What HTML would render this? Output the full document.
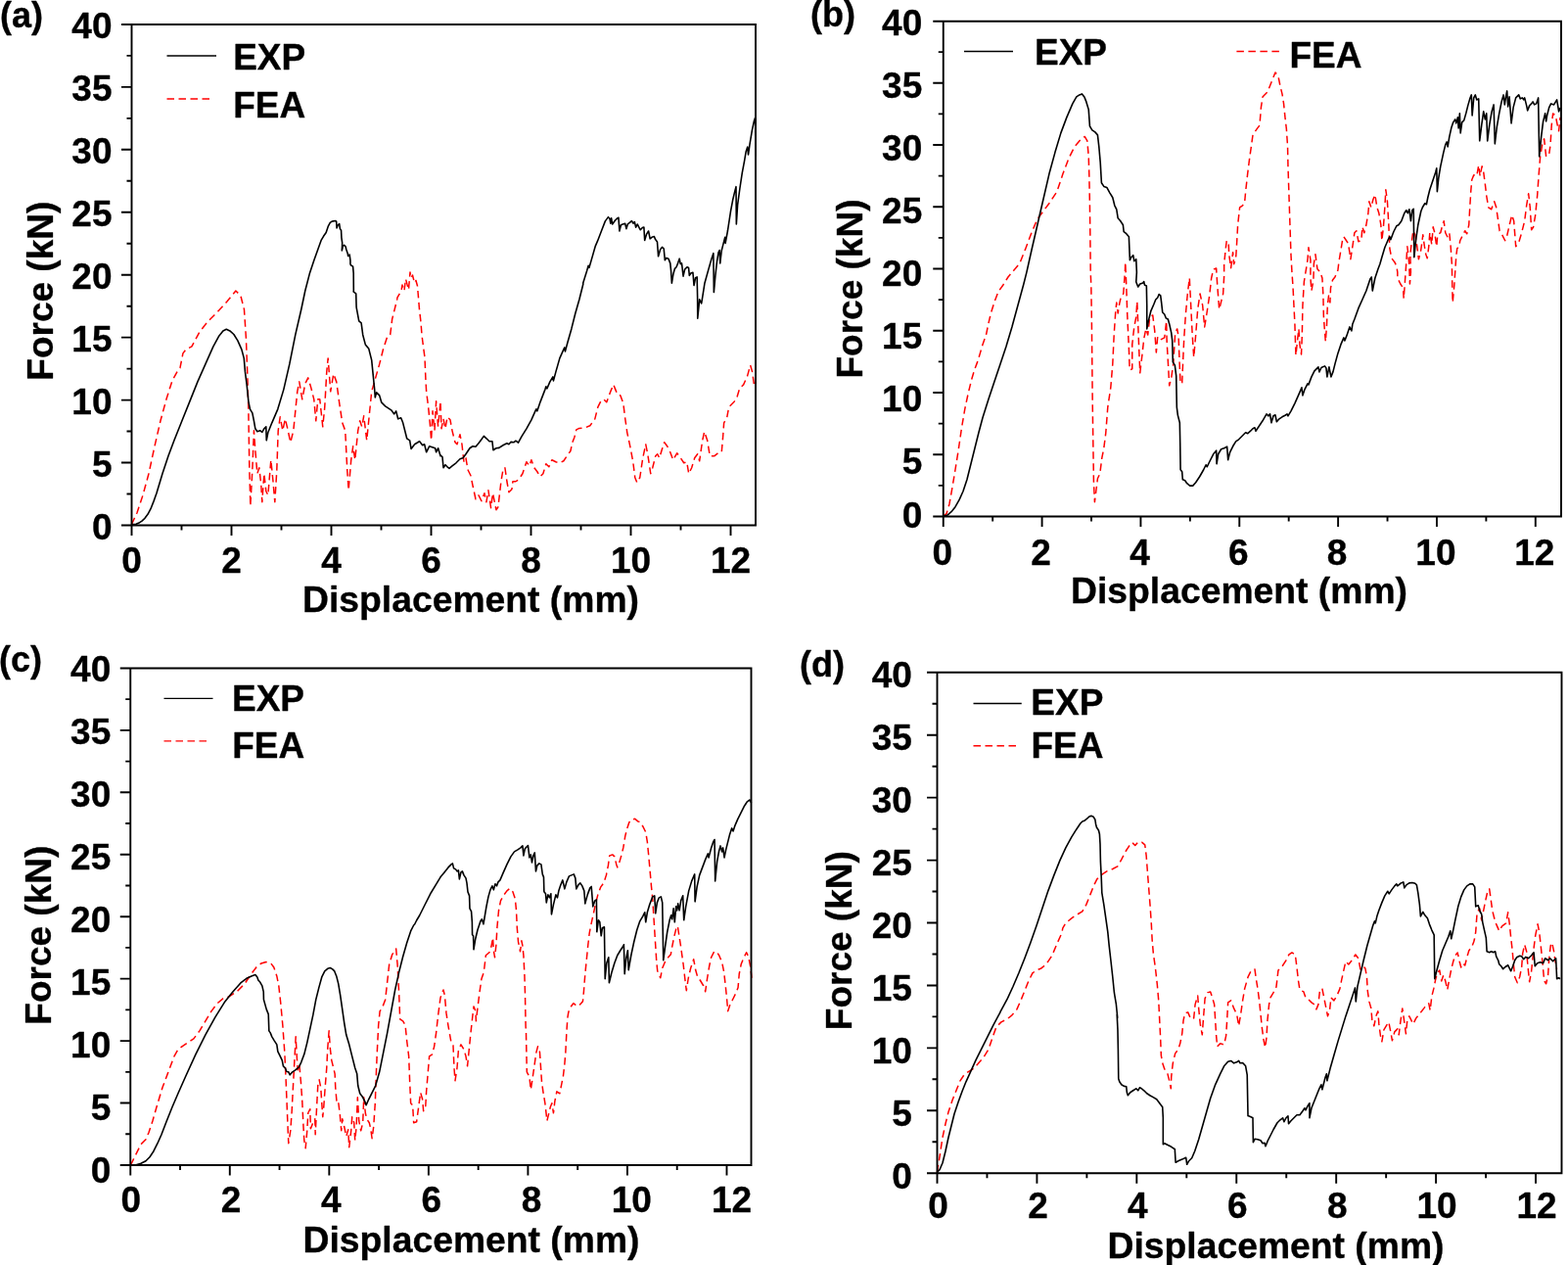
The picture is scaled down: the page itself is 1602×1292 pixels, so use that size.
<!DOCTYPE html>
<html lang="en"><head><meta charset="utf-8"><title>Force-displacement curves</title>
<style>
html,body{margin:0;padding:0;background:#fff;}
body{width:1602px;height:1292px;overflow:hidden;}
svg{display:block;}
text{font-family:"Liberation Sans", Arial, Helvetica, sans-serif;font-weight:bold;font-size:37px;fill:#000;stroke:#000;stroke-width:0.35px;stroke-linejoin:round;}
.ax{stroke:#000;stroke-width:1.9;fill:none;stroke-linecap:butt;}
.exp{stroke:#000;stroke-width:1.6;fill:none;stroke-linejoin:round;}
.fea{stroke:#f00;stroke-width:1.5;fill:none;stroke-dasharray:7.5 4.5;stroke-linejoin:round;}
</style></head>
<body>
<svg width="1602" height="1292" viewBox="0 0 1602 1292">
<rect width="1602" height="1292" fill="#fff"/>
<g id="chart-a">
<polyline class="fea" points="134.39,535.69 139.99,523.71 145.98,505.73 151.97,483.76 157.97,455.79 163.96,429.82 169.95,407.85 175.94,388.87 181.94,377.88 183.94,375.88 186.93,360.9 189.93,356.91 195.92,353.91 203.91,338.93 211.9,328.94 221.89,318.95 231.88,307.97 240.87,296.98 245.86,301.97 249.46,315.96 251.45,345.92 252.85,383.88 253.85,419.83 254.85,479.76 255.85,516.72 257.85,479.76 259.44,439.81 260.84,459.78 262.84,483.76 264.84,477.76 266.84,495.74 267.83,512.72 269.83,483.76 271.83,501.73 273.83,505.73 276.82,469.77 278.82,489.75 280.82,512.72 282.82,479.76 284.21,439.81 286.21,425.83 288.81,439.81 291.41,427.82 293.8,437.81 296.8,451.79 299.8,439.81 301.79,419.83 303.79,399.86 305.79,389.87 308.79,407.85 311.78,391.87 314.78,385.87 317.77,395.86 320.77,407.85 322.77,429.82 324.77,407.85 326.76,407.85 329.76,435.81 331.76,415.84 333.76,379.88 335.15,365.9 337.75,399.86 340.75,381.88 343.74,389.87 346.74,411.84 349.74,431.82 352.73,439.81 354.73,479.76 356.13,500.74 358.73,469.77 360.72,455.79 362.72,469.77 365.72,439.81 367.71,429.82 369.71,435.81 371.71,424.83 374.71,449.8 376.7,429.82 379.7,399.86 383.7,385.87 387.69,371.89 391.69,355.91 395.68,343.92 398.68,341.93 400.68,325.94 405.67,305.97 405.99,303.96 409.99,296.96 410.99,290.97 412.99,296.96 414.49,284.98 417.48,295.96 418.98,277.98 419.98,283.98 421.48,280.98 423.48,288.97 424.98,286.47 426.47,291.97 427.17,299.96 428.47,315.94 429.97,328.93 430.97,341.92 432.47,353.91 433.97,364.9 434.97,388.87 435.63,399.86 437.63,415.84 439.23,431.82 440.63,449.8 442.03,419.83 444.02,439.81 445.62,409.84 447.62,435.81 450.02,409.84 451,437.81 453,427.82 454.99,437.81 456.99,425.83 459.99,428.82 461.99,439.81 464.98,451.79 466.98,453.79 469.98,443.8 471.97,453.79 473.97,471.77 475.97,467.77 477.97,479.76 480.96,485.75 482.96,495.74 485.96,509.72 488.95,505.73 491.95,511.72 494.95,503.73 496.94,512.72 498.94,500.74 501.54,518.71 503.54,503.73 506.93,520.71 508.93,517.71 511.93,491.75 513.92,479.76 515.92,477.76 517.92,491.75 519.92,502.73 522.91,499.74 523.91,491.75 526.91,491.75 529.9,489.75 533.9,483.76 537.89,471.77 540.89,475.77 542.89,469.77 545.88,477.76 548.88,481.76 551.88,486.75 554.87,483.76 557.87,473.77 560.87,476.76 563.86,469.77 567.86,471.77 571.85,472.77 575.85,470.77 579.84,464.78 582.84,460.78 584.84,451.79 586.84,446.8 588.83,438.81 591.83,437.41 597.82,436.81 602.82,434.81 607.81,427.82 610.81,415.84 613.8,409.84 616.8,407.85 619.8,410.84 623.79,399.86 626.79,392.86 628.79,397.86 630.78,402.85 633.78,403.85 636.78,411.84 638.77,427.82 640.77,441.81 643.77,455.79 646.76,471.77 648.76,487.75 650.76,492.74 653.76,487.75 656.75,467.77 659.75,453.79 661.75,463.78 664.74,483.76 666.74,477.76 669.74,465.78 671.73,463.78 673.73,467.77 676.73,457.79 678.73,451.79 681.72,455.79 684.72,461.78 687.71,469.77 691.71,462.78 694.71,466.78 698.7,472.77 701.7,471.77 703.7,483.76 706.69,477.76 709.69,467.77 712.68,463.78 714.68,470.77 717.68,449.8 719.68,440.81 722.67,449.8 725.27,465.78 729.66,465.78 733.66,462.78 737.26,461.78 738.65,445.8 739.65,431.82 742.65,426.82 744.65,415.84 749.64,410.84 752.64,406.85 755.63,396.86 759.63,392.86 763.62,383.88 766.62,372.89 768.62,379.88 770.82,395.86"/>
<polyline class="exp" points="134.39,535.69 138.99,535.29 141.99,534.1 144.98,532.1 147.98,529.3 150.97,525.31 153.97,519.71 156.97,512.12 159.96,503.73 162.96,493.74 165.96,483.76 171.95,465.78 177.94,449.8 185.93,429.82 193.92,409.84 201.91,389.87 209.9,371.89 217.89,353.91 223.89,342.92 227.88,337.93 231.28,336.33 234.87,337.93 238.87,341.53 242.86,347.92 246.86,356.91 249.26,365.9 250.46,379.88 252.25,393.86 253.85,409.84 255.45,417.83 257.85,421.83 259.44,429.82 260.84,437.81 262.84,440.81 265.84,439.81 267.83,441.41 269.83,437.81 271.83,435.81 272.23,449.8 273.83,441.81 277.82,431.82 283.82,417.83 289.81,397.86 295.8,371.89 301.79,341.93 307.79,315.96 311.77,297 316.28,279.58 320.78,266.07 324.53,255.56 328.29,245.05 330.54,241.29 333.17,237.54 335.42,230.78 337.3,227.4 339.17,226.13 342.55,225.53 343.68,226.28 344.05,233.03 345.18,230.03 346.68,228.53 347.43,233.78 348.56,235.29 348.93,242.79 349.68,248.05 349.31,255.93 350.44,251.05 351.56,250.3 353.06,251.8 353.81,254.8 355.32,259.31 355.69,261.56 357.19,260.06 357.94,266.07 357.94,269.82 358.69,270.95 360.57,272.07 361.17,278.83 361.32,297 361.12,297.98 363.72,299.98 364.12,313.96 366.72,327.94 369.11,329.94 370.71,341.93 373.31,351.91 376.7,355.91 379.7,367.89 381.3,383.88 382.7,397.86 383.3,405.85 384.69,400.85 387.69,403.85 389.69,410.84 393.68,414.84 399.68,418.83 402.67,422.83 404.67,419.83 406.67,427.82 409.66,426.82 411.66,431.82 413.66,439.81 415.66,447.8 418.65,449.8 420.05,458.39 423.65,453.79 428.64,450.8 431.64,454.79 433.64,453.79 435.63,461.78 438.63,455.79 444.62,457.79 445.62,461.78 447.62,457.79 450.02,465.78 450,464.78 452,466.78 453,477.76 454.99,474.77 456.99,476.76 458.99,478.36 461.99,475.77 465.98,472.77 469.98,468.77 472.97,467.77 475.97,463.78 479.96,457.79 482.96,455.79 485.96,456.19 488.95,452.79 491.95,448.8 494.35,445.4 496.94,447.8 499.94,450.8 502.94,450.8 503.94,459.78 506.93,457.79 509.93,457.39 513.92,454.79 517.92,452.79 519.92,453.79 521.91,451.39 524.91,451.79 526.91,450.2 529.5,452.19 532.9,445.8 537.89,437.81 542.89,428.82 546.88,419.83 547.88,417.83 548.88,419.83 551.88,410.84 556.87,397.86 557.87,394.86 558.87,396.86 561.87,389.87 564.86,384.87 565.46,388.87 567.86,379.88 571.85,365.9 575.85,356.91 576.85,354.91 577.45,358.91 579.84,349.92 583.84,335.93 587.83,319.95 591.83,305.97 595.83,289.99 595.67,289.18 599.57,276.67 601.14,271.2 601.92,273.55 605.05,262.6 608.17,251.66 610.52,246.19 614.43,236.02 618.34,225.86 621.46,221.64 623.03,223.51 623.81,228.21 624.59,222.73 625.68,228.99 628.5,225.08 630.06,223.51 631.94,222.26 632.88,236.02 634.44,229.77 636.32,228.99 638.66,228.21 639.91,233.68 641.32,228.99 643.35,227.42 645.38,225.55 646.95,228.21 648.36,226.64 649.61,232.11 651.17,228.99 653.2,232.9 654.3,234.77 656.33,232.58 657.89,232.11 658.67,245.4 660.55,239.15 662.58,236.02 664.15,243.84 666.02,242.28 668.37,241.49 669.62,244.62 671.49,246.97 672.59,261.82 674.62,254.78 676.5,252.44 678.22,254 679.31,265.73 680.88,263.38 682.91,264.17 684.78,268.86 685.57,276.67 686.35,289.18 687.91,279.8 689.47,274.33 691.04,272.76 692.6,268.86 694.17,264.17 695.26,269.64 696.51,268.86 698.07,282.15 699.64,275.11 701.98,272.76 703.55,273.55 704.33,281.36 705.89,279.02 707.92,278.24 709.02,291.53 710.58,283.71 712.15,282.93 712.61,303.25 712.77,325.14 714.65,305.91 716.68,309.97 717.62,304.03 719.96,289.18 723.87,275.11 727,264.17 728.87,258.69 729.34,298.56 730.91,281.36 732.47,267.29 734.03,257.91 735.13,255.57 735.75,268.86 737.16,256.35 738.72,250.09 740.76,242.28 741.07,248.53 743.41,236.02 746.54,215.7 748.89,203.19 750.76,195.37 752.01,190.68 752.33,228.99 753.58,209.44 755.92,192.25 758.27,176.61 760.61,164.1 762.18,154.72 763.74,150.03 764.52,157.85 766.09,146.9 768.43,132.83 770.46,123.45 771.56,120.33 772.03,159.41"/>
<path class="ax" d="M124 25 H772 V536.5 H124 M134.5 24.05 V547 M124 472.55H134.5 M124 408.6H134.5 M124 344.65H134.5 M124 280.7H134.5 M124 216.75H134.5 M124 152.8H134.5 M124 88.85H134.5 M129.5 504.52H134.5 M129.5 440.57H134.5 M129.5 376.62H134.5 M129.5 312.68H134.5 M129.5 248.73H134.5 M129.5 184.78H134.5 M129.5 120.83H134.5 M129.5 56.88H134.5 M185.5 536.5V541.5 M236.5 536.5V547 M287.5 536.5V541.5 M338.5 536.5V547 M389.5 536.5V541.5 M440.5 536.5V547 M491.5 536.5V541.5 M542.5 536.5V547 M593.5 536.5V541.5 M644.5 536.5V547 M695.5 536.5V541.5 M746.5 536.5V547"/>
<text x="114.5" y="550.6" text-anchor="end">0</text>
<text x="114.5" y="486.65" text-anchor="end">5</text>
<text x="114.5" y="422.7" text-anchor="end">10</text>
<text x="114.5" y="358.75" text-anchor="end">15</text>
<text x="114.5" y="294.8" text-anchor="end">20</text>
<text x="114.5" y="230.85" text-anchor="end">25</text>
<text x="114.5" y="166.9" text-anchor="end">30</text>
<text x="114.5" y="102.95" text-anchor="end">35</text>
<text x="114.5" y="39" text-anchor="end">40</text>
<text x="134.5" y="584.8" text-anchor="middle">0</text>
<text x="236.5" y="584.8" text-anchor="middle">2</text>
<text x="338.5" y="584.8" text-anchor="middle">4</text>
<text x="440.5" y="584.8" text-anchor="middle">6</text>
<text x="542.5" y="584.8" text-anchor="middle">8</text>
<text x="644.5" y="584.8" text-anchor="middle">10</text>
<text x="746.5" y="584.8" text-anchor="middle">12</text>
<text x="481" y="624.5" text-anchor="middle" style="font-size:37.3px">Displacement (mm)</text>
<text transform="translate(53.7 297.2) rotate(-90)" text-anchor="middle">Force (kN)</text>
<text x="0" y="28" style="font-size:36px">(a)</text>
<line class="exp" style="stroke-width:1.3" x1="170.5" y1="57" x2="221" y2="57"/><text x="238.2" y="70.5">EXP</text>
<line class="fea" style="stroke-width:1.3" x1="170.5" y1="101" x2="215" y2="101"/><text x="238.2" y="120">FEA</text>
</g>
<g id="chart-b">
<polyline class="fea" points="963.6,527.29 966.99,524.7 969.99,514.71 972.98,497.73 975.98,479.75 979.18,459.77 982.37,437.8 985.77,417.83 989.17,401.84 992.56,387.86 995.56,377.87 998.55,369.88 1001.35,360.89 1003.95,351.9 1007.54,341.92 1009.54,331.93 1012.34,319.94 1016.13,307.96 1019.93,297.97 1024.92,290.98 1029.92,282.99 1035.91,276 1041.9,268.7 1047.89,253.72 1053.89,237.74 1059.88,223.76 1065.87,215.77 1071.87,207.77 1079.86,195.79 1085.85,177.81 1091.84,161.83 1097.83,149.84 1103.83,142.85 1108.22,139.46 1110.82,143.85 1112.22,159.83 1112.82,179.81 1113.42,209.77 1113.82,239.74 1114.21,278.09 1114.81,291.98 1115.41,331.93 1115.81,371.88 1116.21,411.83 1116.81,451.78 1117.41,491.74 1118.41,512.71 1119.81,501.72 1121.41,488.74 1123.8,483.75 1125.8,467.77 1127.8,457.78 1129.8,441.8 1131.79,415.83 1134.79,395.85 1136.79,371.88 1138.19,341.92 1139.78,317.94 1140.78,308.96 1142.18,319.94 1143.78,309.95 1145.38,302.96 1147.77,299.97 1149.37,277.99 1149.77,268 1150.77,291.98 1151.77,321.94 1153.37,355.9 1154.17,377.87 1156.76,376.87 1156.76,351.9 1158.76,333.93 1160.76,323.94 1161.76,307.96 1162.76,331.93 1163.76,357.9 1164.75,380.87 1166.75,363.89 1168.75,345.91 1170.75,335.92 1172.74,341.92 1174.74,323.94 1177.74,321.94 1179.74,337.92 1181.33,359.89 1182.73,343.91 1185.73,346.91 1189.72,344.91 1191.72,327.93 1192.12,347.91 1193.72,375.88 1194.72,393.85 1196.72,385.86 1198.71,371.88 1199.71,355.9 1200.71,339.92 1202.71,335.92 1204.11,343.91 1205.31,375.88 1206.1,391.86 1207.7,390.86 1208.7,367.88 1209.7,345.91 1211.3,321.94 1213.3,299.97 1215.29,283.99 1216.69,311.95 1218.09,339.92 1219.69,364.89 1221.69,341.92 1223.68,315.95 1226.08,299.97 1228.68,311.95 1230.68,333.93 1232.67,321.94 1235.67,301.96 1237.67,283.99 1239.66,275 1242.66,274 1243.66,289.98 1245.66,315.95 1247.65,307.96 1249.65,299.97 1250.65,281.99 1250.65,269.7 1252.05,255.72 1253.25,245.73 1255.25,249.72 1255.65,259.71 1257.64,273.7 1259.64,257.71 1260.64,269.7 1262.64,263.71 1263.64,247.73 1264.63,229.75 1266.63,211.77 1269.63,209.77 1271.63,206.78 1272.62,195.79 1274.62,177.81 1276.62,161.83 1278.62,147.85 1280.02,137.86 1284,131.87 1286.99,127.87 1288.39,109.89 1289.99,98.91 1294.98,93.91 1298.98,83.92 1302.97,73.94 1305.97,77.93 1307.97,87.92 1309.96,95.91 1311.56,105.9 1312.96,119.88 1314.36,131.87 1315.56,149.84 1315.96,169.82 1316.96,199.78 1317.95,229.75 1318.95,259.71 1319.95,278.09 1320.95,291.98 1321.95,311.95 1322.95,331.93 1323.55,351.9 1323.95,362.89 1325.55,347.91 1326.94,335.92 1327.94,351.9 1329.54,361.89 1330.34,341.92 1330.94,311.95 1332.34,287.98 1335.93,265.71 1336.93,252.72 1338.93,265.71 1338.93,283.99 1339.93,296.97 1341.93,285.98 1342.33,269.7 1343.92,259.71 1345.92,274.69 1348.92,278.09 1350.91,283.99 1351.91,301.96 1352.31,321.94 1353.51,339.92 1354.31,348.91 1355.51,331.93 1356.31,311.95 1357.51,301.96 1358.91,308.96 1359.5,293.97 1361.5,285.98 1363.9,282.99 1366.9,276 1367.89,267.7 1369.89,255.72 1371.49,245.73 1372.89,241.73 1374.89,244.73 1377.48,248.73 1378.88,257.71 1379.88,264.71 1381.88,251.72 1383.88,237.74 1385.87,235.74 1387.87,246.73 1390.87,245.73 1391.87,231.75 1393.86,237.74 1395.86,229.75 1397.86,217.76 1398.86,205.78 1400.85,211.77 1402.85,203.78 1404.85,198.79 1406.85,211.77 1408.85,217.76 1410.84,229.75 1411.84,245.73 1413.44,231.75 1414.84,211.77 1415.84,193.79 1417.44,205.78 1418.83,229.75 1419.83,253.72 1421.83,263.71 1424.83,267.7 1426.82,271.7 1427.82,278.09 1427.82,283.99 1430.82,289.98 1433.42,293.97 1434.21,304.96 1435.41,287.98 1436.81,267.7 1437.81,251.72 1438.81,259.71 1439.81,271.7 1440.41,289.98 1441.41,277.99 1440.81,259.71 1442.21,247.73 1443.8,235.74 1445.8,239.74 1447.8,251.72 1449.4,264.71 1451.39,257.71 1452.79,247.73 1453.79,239.74 1455.39,251.72 1456.79,259.71 1458.19,263.71 1459.78,251.72 1460.78,237.74 1462.78,249.72 1464.18,231.75 1465.78,237.74 1467.77,251.72 1468.77,239.74 1471.77,237.74 1473.77,229.75 1475.17,225.75 1476.76,237.74 1478.76,241.73 1480.76,237.74 1482.16,251.72 1483.36,269.7 1483.76,291.98 1484.16,308.96 1485.75,291.98 1487.75,261.71 1488.75,253.72 1490.75,251.72 1491.75,245.73 1494.74,239.74 1496.74,235.74 1498.74,238.74 1500.74,229.75 1501.73,211.77 1502.73,195.79 1503.73,183.8 1505.73,178.81 1508.73,179.81 1510.72,168.82 1512.12,179.81 1514.12,169.82 1515.72,175.81 1517.32,187.8 1518.71,199.78 1520.71,211.77 1523.71,213.77 1526.7,205.78 1528.7,211.77 1530.7,225.75 1532.1,235.74 1534.69,239.74 1537.69,245.73 1539.69,240.74 1542.68,227.75 1544.68,219.76 1546.68,225.75 1548.68,251.72 1551.67,247.73 1554.67,237.74 1557.67,225.75 1559.66,209.77 1561.66,197.79 1563.26,211.77 1564.66,234.74 1566.66,231.75 1568.65,219.76 1570.65,199.78 1572.05,179.81 1573.65,159.83 1575.65,147.85 1577.64,141.85 1579.64,159.83 1582.64,157.83 1584.04,147.85 1585.23,127.87 1586.63,115.88 1589.23,117.88 1591.23,127.87 1592.62,133.86 1594.02,119.88"/>
<polyline class="exp" points="963.6,527.29 967.99,526.1 971.99,522.7 975.98,517.71 979.98,510.71 983.97,501.72 987.97,489.74 991.96,473.76 995.96,457.78 999.95,441.8 1003.95,426.81 1009.94,407.84 1015.93,389.86 1021.93,371.88 1027.92,353.9 1033.91,333.93 1039.9,311.95 1045.9,289.98 1048.89,278.09 1053.89,255.72 1059.88,229.75 1065.87,203.78 1071.87,177.81 1077.86,155.84 1083.85,135.86 1089.84,119.88 1095.84,105.9 1099.83,98.91 1102.83,96.91 1105.43,95.91 1107.82,98.91 1109.82,103.9 1112.22,111.89 1113.42,128.87 1115.81,132.86 1118.81,134.86 1121.41,137.86 1122.8,149.84 1124.2,165.83 1125.4,186.8 1127.8,190.4 1130.8,191.39 1133.79,196.79 1136.79,201.78 1138.79,209.77 1140.78,213.77 1142.18,222.76 1144.78,225.75 1147.38,229.75 1148.17,236.74 1150.77,238.74 1153.37,241.73 1154.37,265.71 1155.77,262.71 1157.76,260.71 1158.76,266.7 1160.76,264.71 1161.36,278.09 1160.76,287.98 1162.76,292.97 1164.75,289.98 1167.75,288.98 1168.75,287.58 1169.35,290.98 1171.35,291.98 1171.75,311.95 1171.75,335.92 1173.34,327.93 1175.74,317.94 1178.74,310.95 1180.74,305.96 1182.73,303.96 1184.13,300.57 1185.73,301.96 1186.73,309.95 1187.73,318.94 1189.72,320.94 1191.32,324.94 1193.32,325.94 1194.72,330.93 1196.72,339.92 1197.71,347.91 1198.31,369.88 1200.31,372.88 1201.71,383.87 1202.31,415.83 1203.31,423.82 1205.31,431.81 1205.71,451.78 1206.1,479.75 1207.7,481.75 1208.3,489.74 1210.7,490.74 1212.7,493.73 1215.69,496.13 1218.69,496.13 1221.69,492.74 1225.68,486.74 1229.68,479.75 1232.07,474.76 1233.27,476.75 1235.67,471.76 1239.66,463.77 1242.66,460.17 1243.06,473.76 1244.66,463.77 1247.65,458.78 1250.65,457.78 1253.65,456.18 1254.65,469.76 1256.64,461.77 1259.64,455.78 1262.64,450.79 1265.63,448.79 1269.63,444.79 1272.62,441.8 1274.62,442.8 1277.62,440.2 1280.02,437.8 1282,436.8 1283,440.2 1285.99,435.8 1289.99,429.81 1293.98,422.82 1295.98,424.82 1297.58,422.82 1298.98,431.81 1300.97,424.82 1302.97,423.82 1304.37,430.81 1306.97,427.81 1309.96,425.82 1312.96,424.22 1314.96,422.82 1315.96,424.82 1318.95,419.82 1322.95,411.83 1326.94,402.84 1329.94,395.85 1330.94,403.84 1332.94,397.85 1335.93,391.86 1336.93,392.85 1339.93,384.86 1342.92,378.87 1346.92,374.88 1347.92,379.87 1349.92,375.48 1353.51,373.88 1354.91,375.88 1355.91,384.86 1357.91,374.88 1359.9,384.86 1361.9,379.87 1363.9,371.88 1366.9,360.89 1369.89,351.9 1372.89,344.91 1373.89,347.91 1375.88,342.91 1378.88,333.93 1380.88,337.92 1381.88,330.93 1383.88,325.94 1387.87,314.95 1391.87,305.96 1395.86,296.97 1399.86,284.98 1401.25,282.99 1402.25,296.97 1404.85,283.99 1407.85,275 1409.84,269.7 1411.84,262.71 1414.84,252.72 1417.83,245.73 1419.83,241.73 1420.83,244.73 1423.83,236.74 1426.82,230.75 1428.82,229.75 1431.82,225.75 1434.81,217.76 1436.81,214.77 1438.21,217.76 1439.81,213.77 1441.41,225.75 1442.8,214.77 1444.2,213.37 1444.8,262.71 1446.8,243.73 1448.8,229.75 1451.79,215.77 1453.39,211.77 1455.79,207.77 1457.39,208.77 1458.79,201.78 1460.78,193.79 1462.78,187.8 1464.78,181.81 1466.78,175.81 1467.77,171.82 1468.37,195.79 1469.77,181.81 1471.77,169.82 1474.77,155.84 1476.76,147.85 1478.16,144.85 1479.16,149.84 1480.76,139.86 1482.76,130.87 1484.75,124.87 1486.75,121.88 1487.75,125.87 1489.35,119.88 1490.15,130.87 1491.35,115.88 1492.15,135.86 1493.74,124.87 1495.74,122.88 1497.74,115.88 1499.74,107.89 1501.73,100.9 1503.33,96.91 1504.13,117.88 1505.73,99.9 1507.33,96.91 1508.73,101.9 1510.72,100.9 1511.72,143.85 1513.72,127.87 1515.72,113.89 1517.32,121.88 1518.71,115.88 1519.71,143.85 1521.71,127.87 1524.11,113.89 1526.1,106.9 1527.3,146.85 1529.3,129.87 1531.7,115.88 1534.1,103.9 1536.09,96.91 1537.29,106.9 1538.69,97.91 1539.69,92.91 1540.69,108.89 1542.09,98.91 1544.08,125.87 1546.08,109.89 1548.68,99.9 1551.67,96.91 1553.27,100.9 1555.27,99.9 1556.67,101.9 1557.67,99.9 1559.66,107.89 1560.66,112.89 1562.66,107.89 1564.66,105.9 1566.06,103.9 1567.65,106.9 1569.65,105.9 1571.65,99.9 1572.65,159.83 1574.65,139.86 1576.64,123.88 1578.64,115.88 1579.64,123.88 1580.64,117.88 1582.64,109.89 1584.63,105.9 1587.63,106.9 1590.63,101.9 1592.62,113.89 1594.02,109.89"/>
<path class="ax" d="M953.25 21.7 H1595 V527.5 H953.25 M963.75 20.75 V538 M953.25 464.25H963.75 M953.25 401H963.75 M953.25 337.75H963.75 M953.25 274.5H963.75 M953.25 211.25H963.75 M953.25 148H963.75 M953.25 84.75H963.75 M958.75 495.88H963.75 M958.75 432.62H963.75 M958.75 369.38H963.75 M958.75 306.12H963.75 M958.75 242.88H963.75 M958.75 179.62H963.75 M958.75 116.38H963.75 M958.75 53.12H963.75 M1014.17 527.5V532.5 M1064.59 527.5V538 M1115.01 527.5V532.5 M1165.43 527.5V538 M1215.85 527.5V532.5 M1266.27 527.5V538 M1316.69 527.5V532.5 M1367.11 527.5V538 M1417.53 527.5V532.5 M1467.95 527.5V538 M1518.37 527.5V532.5 M1568.79 527.5V538"/>
<text x="942.25" y="539.4" text-anchor="end">0</text>
<text x="942.25" y="483.95" text-anchor="end">5</text>
<text x="942.25" y="420" text-anchor="end">10</text>
<text x="942.25" y="356.05" text-anchor="end">15</text>
<text x="942.25" y="292.1" text-anchor="end">20</text>
<text x="942.25" y="228.15" text-anchor="end">25</text>
<text x="942.25" y="164.2" text-anchor="end">30</text>
<text x="942.25" y="100.25" text-anchor="end">35</text>
<text x="942.25" y="36.3" text-anchor="end">40</text>
<text x="962.75" y="576.7" text-anchor="middle">0</text>
<text x="1063.59" y="576.7" text-anchor="middle">2</text>
<text x="1164.43" y="576.7" text-anchor="middle">4</text>
<text x="1265.27" y="576.7" text-anchor="middle">6</text>
<text x="1366.11" y="576.7" text-anchor="middle">8</text>
<text x="1466.95" y="576.7" text-anchor="middle">10</text>
<text x="1567.79" y="576.7" text-anchor="middle">12</text>
<text x="1266" y="616.2" text-anchor="middle" style="font-size:37.3px">Displacement (mm)</text>
<text transform="translate(880.9 295) rotate(-90)" text-anchor="middle">Force (kN)</text>
<text x="828" y="27.25" style="font-size:36px">(b)</text>
<line class="exp" style="stroke-width:1.3" x1="985" y1="52.5" x2="1035" y2="52.5"/><text x="1057" y="66.4">EXP</text>
<line class="fea" style="stroke-width:1.3" x1="1263.4" y1="52.5" x2="1308.4" y2="52.5"/><text x="1317.5" y="68.6">FEA</text>
</g>
<g id="chart-c">
<polyline class="fea" points="133.4,1190.09 137.99,1180.71 143.98,1168.72 148.98,1163.73 151.97,1156.73 155.97,1144.75 159.96,1130.77 165.96,1110.79 171.95,1094.81 177.94,1078.83 181.94,1071.84 185.93,1068.84 191.93,1064.84 197.92,1060.85 203.91,1052.86 209.9,1042.87 215.9,1032.88 221.89,1024.89 227.88,1019.9 233.88,1017.9 241.87,1012.91 249.86,1004.92 255.85,995.93 261.84,987.94 266.84,983.94 271.83,982.54 276.82,983.94 279.82,987.94 282.82,996.93 284.81,1006.91 286.81,1024.89 288.81,1046.87 290.81,1074.83 292.21,1104.8 293.4,1134.76 294.2,1154.74 294.8,1167.72 296.8,1154.74 298.2,1134.76 299.4,1110.79 300.8,1084.82 302.19,1058.85 303.39,1080.83 304.19,1092.81 305.79,1086.82 307.39,1104.8 308.79,1124.77 309.78,1146.75 310.78,1164.72 312.18,1172.71 313.78,1154.74 314.78,1136.76 316.78,1132.76 317.38,1152.74 319.77,1146.75 321.77,1142.75 322.17,1158.73 323.37,1134.76 324.77,1108.79 326.16,1102.8 327.76,1110.79 328.76,1126.77 329.76,1140.75 330.76,1130.77 332.16,1110.79 333.76,1090.81 334.75,1070.84 336.15,1052.86 337.35,1070.84 338.75,1082.82 340.75,1090.81 342.15,1096.81 342.74,1110.79 344.14,1126.77 345.74,1125.77 347.34,1138.76 348.74,1154.74 349.74,1142.75 351.73,1150.74 353.73,1160.73 355.73,1153.74 356.73,1171.72 358.73,1154.74 359.72,1140.75 361.72,1146.75 362.72,1164.72 364.12,1150.74 365.32,1120.78 366.72,1144.75 368.71,1154.74 370.71,1146.75 371.71,1120.78 373.31,1136.76 374.71,1142.75 377.3,1146.75 378.7,1152.74 380.1,1162.73 381.7,1150.74 383.3,1126.77 384.29,1098.8 385.29,1074.83 386.69,1046.87 388.09,1032.88 390.69,1028.89 393.68,1020.9 395.68,1002.92 397.68,984.94 400.68,974.95 404.67,968.96 406.07,984.94 407.67,1014.9 408.67,1040.87 411.66,1042.87 414.06,1046.87 415.66,1062.85 417.65,1078.83 418.65,1104.8 419.65,1126.77 421.65,1128.77 422.65,1146.75 425.65,1145.75 427.64,1130.77 429.64,1115.78 431.64,1122.77 432.64,1134.76 434.63,1132.76 435.63,1114.78 437.63,1090.81 438.63,1078.83 441.63,1076.83 443.62,1068.84 445.62,1054.86 447.62,1036.88 450.02,1018.9 453,1010.91 454.39,1016.9 455.99,1034.88 457.99,1047.86 460.99,1064.84 462.98,1067.84 463.98,1090.81 464.98,1103.8 466.98,1090.81 468.38,1072.83 470.97,1066.84 473.97,1071.84 475.97,1078.83 477.57,1088.82 478.97,1074.83 480.96,1054.86 482.96,1036.88 483.96,1027.89 485.96,1032.88 486.36,1042.87 487.95,1029.71 489.95,1013.73 491.95,999.75 494.35,992.76 496.34,975.78 499.94,972.78 501.94,966.79 503.54,957.8 504.33,970.78 505.53,977.77 506.93,964.79 507.93,946.81 509.53,929.83 511.53,919.84 514.92,913.85 517.92,909.86 520.91,907.46 523.91,910.85 526.31,917.85 527.51,929.83 528.31,947.81 529.5,961.79 531.5,971.78 532.9,960.8 533.9,965.79 534.9,975.78 535.9,995.75 536.5,1015.73 537.1,1048.09 537.5,1054.86 537.89,1074.83 538.29,1094.81 540.89,1099.8 542.29,1112.79 543.89,1102.8 545.88,1088.82 547.88,1074.83 549.48,1068.84 551.48,1074.83 552.28,1086.82 553.48,1104.8 554.87,1114.78 556.87,1126.77 558.87,1144.75 560.87,1136.76 562.27,1130.77 563.86,1126.77 565.46,1136.76 566.86,1124.77 568.86,1114.78 571.85,1116.78 573.45,1108.79 575.45,1098.8 576.85,1086.82 577.85,1074.83 578.85,1054.86 579.84,1039.7 580.84,1033.71 582.84,1028.71 585.84,1024.72 589.83,1027.71 592.83,1025.72 595.43,1022.72 596.42,1012.73 597.82,994.75 599.42,978.77 600.82,964.79 602.22,952.8 604.21,942.82 606.81,930.83 608.81,921.84 610.81,913.85 613.8,905.86 616.8,901.87 619.4,893.88 621.39,883.89 622.79,873.9 625.79,872.9 627.79,874.9 629.78,882.89 630.78,885.88 632.78,880.89 634.78,873.9 636.78,865.91 638.77,853.92 640.77,845.93 642.77,839.94 645.37,836.94 648.76,836.34 651.76,838.94 654.16,839.54 656.75,843.94 659.75,849.93 661.35,859.92 662.74,873.9 664.14,889.88 665.34,903.86 666.74,917.85 667.74,933.83 668.74,949.81 669.74,965.79 670.74,981.77 671.73,991.76 674.73,998.75 676.73,988.76 679.72,981.77 682.72,977.77 685.32,974.78 686.72,966.79 688.71,956.8 690.71,948.81 692.31,945.81 693.71,954.8 695.31,964.79 696.7,974.78 698.1,984.77 699.7,998.75 701.3,1011.73 703.3,998.75 705.69,988.76 708.69,979.77 710.69,990.76 712.68,997.75 715.68,1001.75 718.68,1006.74 720.68,1012.73 722.67,998.75 724.67,986.76 726.67,977.77 729.66,971.78 732.66,972.78 734.66,975.78 737.65,982.77 739.65,992.76 741.25,1006.74 742.65,1020.72 743.65,1032.71 745.65,1026.72 748.64,1020.72 751.64,1014.73 754.04,1008.74 755.23,994.75 757.23,984.77 759.63,978.77 762.62,972.78 764.62,976.78 766.62,986.76 768.02,998.75"/>
<polyline class="exp" points="133.4,1190.09 138.99,1189.69 143.98,1188.3 148.98,1185.7 152.97,1181.7 156.97,1175.71 160.96,1167.72 164.96,1158.73 169.95,1145.75 175.94,1130.77 181.94,1116.78 189.93,1098.8 199.92,1076.83 209.9,1056.85 219.89,1038.88 229.88,1022.89 237.87,1012.91 245.86,1003.92 251.85,999.32 256.85,996.93 260.84,995.53 262.84,997.92 263.84,1000.92 265.84,1003.32 267.83,1006.91 269.23,1012.91 269.43,1020.9 270.83,1025.89 272.23,1030.88 274.23,1035.88 274.83,1052.86 276.22,1054.86 277.82,1058.85 280.22,1062.85 282.82,1066.84 283.82,1073.83 285.81,1077.83 288.21,1082.82 289.41,1088.82 291.41,1090.81 292.8,1094.41 294.8,1094.81 296.2,1097.8 298.8,1094.81 301.79,1092.81 305.39,1089.81 307.79,1084.82 310.78,1076.83 313.78,1064.84 316.78,1050.86 319.77,1036.88 322.77,1020.9 325.77,1008.91 328.76,997.92 331.76,991.93 334.75,989.33 337.35,988.54 339.75,989.93 341.75,991.93 343.74,996.93 345.74,1004.92 347.74,1016.9 349.74,1030.88 351.73,1044.87 353.73,1056.85 356.73,1066.84 359.72,1078.83 362.72,1090.81 364.72,1096.81 365.72,1108.79 367.71,1116.78 370.71,1120.78 372.71,1124.77 374.11,1128.77 376.7,1122.77 379.7,1116.78 383.7,1108.79 387.69,1094.81 391.69,1074.83 395.68,1054.86 399.68,1032.88 403.67,1010.91 407.67,992.93 411.66,976.95 415.66,962.97 419.65,950.98 422.65,944.99 423.65,943.99 425.65,939.99 428.64,935 433.64,925.01 439.63,913.03 445.62,903.04 450,895.87 454,890.88 457.99,885.88 460.99,882.89 462.39,881.89 463.58,886.88 465.58,887.88 466.98,889.88 468.38,888.88 469.38,897.87 470.97,890.88 472.37,889.88 473.97,893.88 475.97,896.87 476.97,901.87 477.97,910.85 479.56,914.85 479.96,927.83 481.56,930.83 482.36,941.82 482.56,954.8 483.56,955.8 483.96,969.78 485.56,959.8 487.95,949.81 490.95,940.82 492.35,938.82 493.95,943.82 494.95,937.82 496.94,925.84 498.94,915.85 500.94,908.86 502.94,904.86 504.33,908.86 505.93,902.86 507.53,904.86 508.93,900.87 510.93,898.87 513.92,891.88 517.92,882.89 521.91,874.9 525.51,869.9 528.91,867.91 531.9,865.91 533.9,863.91 534.9,873.9 536.3,866.91 539.49,863.51 540.89,875.9 542.29,872.9 543.49,880.89 544.89,873.9 546.28,870.9 547.48,889.88 548.88,883.89 550.88,881.89 552.88,882.89 554.27,892.88 555.47,895.87 555.87,910.85 557.47,912.85 558.27,921.84 559.87,913.85 561.47,916.85 562.86,912.85 563.46,933.83 565.46,923.84 567.86,913.85 569.46,916.85 570.85,909.86 572.85,903.86 574.85,898.87 576.85,907.86 578.85,900.87 581.44,894.87 583.84,893.88 586.24,892.88 587.83,896.87 588.83,907.86 590.83,903.86 592.83,901.87 594.83,904.86 596.82,909.86 597.82,922.84 600.22,913.85 602.82,906.86 604.21,905.46 605.81,925.84 607.81,919.84 609.41,918.85 609.81,951.81 611.41,939.82 612.8,941.82 614.2,955.8 615.4,947.81 617.4,946.81 618.2,999.75 619.8,983.77 621.79,977.77 622.39,1003.74 624.79,993.76 627.79,983.77 630.78,975.78 633.78,970.78 635.78,967.79 637.38,964.79 638.17,994.75 639.77,978.77 641.37,970.78 642.17,990.76 644.77,975.78 647.76,961.79 650.76,949.81 653.76,940.82 656.75,935.83 658.75,931.83 659.75,941.82 661.35,931.83 663.74,923.84 666.74,915.85 668.74,914.85 669.74,932.83 671.33,921.84 673.33,916.85 675.33,915.85 676.73,921.84 677.73,980.77 679.72,965.79 681.72,951.81 684.12,939.82 685.72,934.83 686.72,938.82 688.11,927.83 689.31,941.82 690.71,925.84 691.71,929.83 692.71,922.84 694.11,929.83 695.71,919.84 697.7,914.85 698.7,939.82 700.7,925.84 703.7,909.86 706.69,899.87 709.69,892.88 710.09,920.84 712.09,905.86 714.68,893.88 717.68,885.88 720.68,877.89 723.27,871.9 724.07,875.9 726.67,865.91 728.67,859.92 730.06,857.52 730.66,899.87 732.66,879.89 734.66,868.91 736.06,863.91 737.65,869.9 738.65,865.91 740.05,875.9 741.65,867.91 743.65,859.92 745.65,851.93 747.64,845.93 749.04,848.93 750.64,843.94 753.64,836.94 756.63,830.95 758.63,826.96 760.63,822.96 763.62,818.57 766.02,816.97 767.62,819.96"/>
<path class="ax" d="M122.75 682.5 H767.5 V1190 H122.75 M133.25 681.55 V1200.5 M122.75 1126.55H133.25 M122.75 1063.1H133.25 M122.75 999.65H133.25 M122.75 936.2H133.25 M122.75 872.75H133.25 M122.75 809.3H133.25 M122.75 745.85H133.25 M128.25 1158.28H133.25 M128.25 1094.83H133.25 M128.25 1031.38H133.25 M128.25 967.92H133.25 M128.25 904.48H133.25 M128.25 841.03H133.25 M128.25 777.58H133.25 M128.25 714.12H133.25 M184.02 1190V1195 M234.79 1190V1200.5 M285.56 1190V1195 M336.33 1190V1200.5 M387.1 1190V1195 M437.87 1190V1200.5 M488.64 1190V1195 M539.41 1190V1200.5 M590.18 1190V1195 M640.95 1190V1200.5 M691.72 1190V1195 M742.49 1190V1200.5"/>
<text x="113.25" y="1208.3" text-anchor="end">0</text>
<text x="113.25" y="1144.3" text-anchor="end">5</text>
<text x="113.25" y="1080.3" text-anchor="end">10</text>
<text x="113.25" y="1016.3" text-anchor="end">15</text>
<text x="113.25" y="952.3" text-anchor="end">20</text>
<text x="113.25" y="888.3" text-anchor="end">25</text>
<text x="113.25" y="824.3" text-anchor="end">30</text>
<text x="113.25" y="760.3" text-anchor="end">35</text>
<text x="113.25" y="696.3" text-anchor="end">40</text>
<text x="133.8" y="1238.3" text-anchor="middle">0</text>
<text x="236.1" y="1238.3" text-anchor="middle">2</text>
<text x="338.4" y="1238.3" text-anchor="middle">4</text>
<text x="440.7" y="1238.3" text-anchor="middle">6</text>
<text x="543" y="1238.3" text-anchor="middle">8</text>
<text x="645.3" y="1238.3" text-anchor="middle">10</text>
<text x="747.6" y="1238.3" text-anchor="middle">12</text>
<text x="481.5" y="1279" text-anchor="middle" style="font-size:37.3px">Displacement (mm)</text>
<text transform="translate(52.1 955.2) rotate(-90)" text-anchor="middle">Force (kN)</text>
<text x="-1" y="686" style="font-size:36px">(c)</text>
<line class="exp" style="stroke-width:1.3" x1="167.5" y1="713.4" x2="217.5" y2="713.4"/><text x="237" y="726">EXP</text>
<line class="fea" style="stroke-width:1.3" x1="167.5" y1="756.8" x2="211" y2="756.8"/><text x="237.2" y="774">FEA</text>
</g>
<g id="chart-d">
<polyline class="fea" points="957.4,1197.29 959.99,1181.71 962.99,1161.74 965.99,1147.75 968.98,1135.77 972.98,1123.78 976.97,1113.79 980.97,1103.81 984.96,1097.81 988.96,1094.82 993.95,1091.82 998.95,1086.83 1004.94,1079.83 1009.93,1071.84 1013.93,1059.86 1017.92,1048.87 1022.92,1043.88 1028.91,1040.88 1033.91,1036.89 1038.9,1030.89 1042.89,1021.9 1046.89,1011.92 1050.88,1001.93 1054.88,993.94 1058.88,990.94 1063.87,988.94 1068.86,984.95 1074.86,975.96 1079.85,963.97 1084.84,952.99 1085.84,947.82 1088.84,942.83 1094.83,937.83 1100.83,933.84 1105.82,930.84 1109.81,923.85 1113.81,913.86 1117.8,903.88 1120.8,897.88 1124.8,893.89 1130.79,889.89 1136.78,887.5 1141.78,884.9 1145.77,877.91 1149.77,869.92 1153.76,863.92 1156.76,860.53 1159.75,863.52 1162.75,859.93 1166.75,860.33 1169.74,862.92 1171.14,873.91 1172.34,889.89 1173.74,907.87 1175.14,925.85 1176.33,943.83 1177.13,959.81 1178.33,973.79 1180.33,987.77 1182.33,1005.75 1183.73,1021.73 1184.72,1041.88 1185.72,1061.86 1186.32,1077.84 1187.72,1085.83 1189.72,1091.82 1192.71,1095.82 1194.71,1103.81 1196.31,1111.8 1196.71,1099.81 1198.31,1085.83 1200.71,1075.84 1203.7,1071.84 1205.7,1065.85 1207.7,1055.86 1209.1,1041.88 1210.69,1034.89 1213.69,1033.89 1216.69,1040.88 1219.68,1039.88 1221.08,1025.9 1223.68,1016.91 1224.68,1029.89 1226.27,1045.88 1228.27,1056.86 1229.67,1037.88 1231.07,1019.91 1233.67,1013.91 1236.66,1012.91 1238.66,1018.91 1240.66,1025.9 1241.66,1041.88 1242.65,1057.86 1243.65,1068.85 1246.65,1065.85 1250.65,1066.85 1252.64,1057.86 1253.64,1041.88 1254.64,1023.9 1257.64,1021.9 1260.63,1029.89 1263.63,1035.89 1265.63,1047.87 1267.62,1035.89 1269.62,1021.9 1271.62,1009.92 1275.02,997.93 1278,991.94 1281.99,989.94 1283.39,999.93 1284.99,1009.92 1286.59,1021.9 1287.98,1035.89 1289.38,1049.87 1290.98,1061.86 1292.58,1069.85 1293.98,1059.86 1294.98,1041.88 1296.57,1025.9 1297.97,1018.91 1300.97,1013.91 1303.97,1007.92 1305.96,990.94 1309.96,986.95 1313.95,980.95 1316.95,974.96 1319.95,972.96 1323.34,974.96 1324.94,987.94 1326.54,1001.93 1327.94,1010.92 1331.93,1012.91 1333.93,1018.91 1336.93,1020.91 1339.92,1023.9 1342.92,1025.9 1344.92,1030.89 1346.91,1025.9 1348.51,1010.92 1350.91,1009.92 1352.91,1019.91 1354.9,1029.89 1356.5,1037.88 1358.5,1031.89 1359.9,1018.91 1362.89,1021.9 1365.89,1016.91 1368.89,1009.92 1370.88,999.93 1372.88,990.94 1374.88,981.95 1377.88,984.95 1381.87,979.95 1384.87,974.96 1387.86,978.96 1389.86,989.94 1392.86,986.95 1394.86,988.94 1396.45,997.93 1397.25,1011.92 1398.85,1022.9 1400.85,1029.89 1401.85,1041.88 1403.85,1047.87 1405.84,1037.88 1407.84,1032.89 1408.84,1045.88 1410.44,1057.86 1411.84,1063.85 1413.83,1051.87 1416.83,1046.87 1418.83,1043.88 1420.83,1053.87 1422.42,1062.85 1424.82,1053.87 1427.82,1050.87 1429.21,1056.86 1430.81,1043.88 1432.81,1029.89 1434.81,1043.88 1436.41,1055.86 1437.8,1041.88 1439.8,1037.88 1441.8,1041.88 1443.8,1045.88 1446.79,1039.88 1450.79,1034.89 1454.78,1029.89 1457.78,1025.9 1459.78,1024.9 1461.18,1031.89 1462.77,1017.91 1464.77,1009.92 1466.37,1001.93 1468.37,993.94 1470.77,990.94 1472.76,1001.93 1474.76,995.94 1476.76,1001.93 1478.76,1010.92 1480.75,999.93 1482.75,989.94 1484.75,981.95 1486.75,975.96 1489.14,972.96 1491.14,981.95 1492.74,987.94 1494.74,983.95 1496.73,985.95 1498.73,977.96 1500.73,970.97 1503.73,966.97 1505.72,961.98 1506.32,959.81 1507.72,951.82 1509.12,931.84 1511.72,927.85 1513.71,939.83 1515.71,929.84 1517.71,919.86 1519.71,910.87 1521.7,907.87 1523.1,917.86 1524.7,929.84 1526.7,937.83 1528.7,943.83 1531.69,950.82 1534.69,945.83 1538.68,942.83 1540.68,931.84 1542.28,943.83 1543.68,957.81 1545.08,969.8 1546.27,983.78 1547.67,997.76 1550.27,1003.76 1552.67,997.76 1554.66,987.77 1555.66,973.79 1557.66,964.8 1559.66,971.79 1561.06,987.77 1562.65,1002.76 1564.65,991.77 1566.65,971.79 1568.65,955.81 1571.04,943.83 1572.64,951.82 1574.64,969.8 1576.24,985.78 1577.64,1001.76 1579.63,1004.75 1581.63,995.77 1582.63,979.78 1584.23,965.8 1585.63,962.8 1587.62,971.79 1589.02,981.78 1590.62,989.77"/>
<polyline class="exp" points="957.4,1197.29 959.99,1194.7 962.99,1187.71 965.99,1175.72 968.98,1161.74 971.98,1149.75 974.98,1137.77 978.97,1125.78 982.97,1114.79 986.96,1104.8 991.96,1093.82 996.95,1082.83 1002.94,1070.85 1008.94,1058.86 1014.93,1046.87 1021.92,1033.89 1021.92,1033.72 1028.91,1020.74 1034.9,1007.75 1040.9,993.77 1046.89,978.79 1052.88,962.8 1058.88,945.83 1064.87,927.85 1070.86,909.87 1076.85,893.89 1082.85,878.91 1088.84,865.92 1094.83,854.93 1099.83,846.94 1103.82,840.95 1105.82,838.95 1107.82,838.35 1110.81,835.96 1112.81,833.96 1114.81,833.36 1117.21,834.36 1118.8,836.96 1119.6,841.95 1120.4,844.95 1122.4,847.94 1123.4,851.94 1124,861.93 1124.4,879.9 1125.2,895.88 1125.8,911.87 1127.79,923.85 1129.79,937.83 1131.79,951.82 1133.19,965.8 1134.78,979.78 1136.78,997.76 1138.38,1013.74 1140.38,1025.73 1141.78,1039.71 1141.18,1035.89 1141.98,1051.87 1142.38,1071.84 1142.77,1101.81 1143.77,1104.8 1145.77,1107.8 1148.37,1109.4 1150.77,1109.8 1151.36,1115.79 1152.36,1118.79 1154.76,1115.79 1157.76,1113.79 1160.75,1111.8 1162.75,1113.79 1164.35,1110.8 1165.75,1111.4 1168.74,1113.79 1171.74,1116.79 1174.74,1118.79 1177.73,1120.39 1181.73,1122.78 1184.72,1126.78 1187.72,1130.77 1188.32,1141.76 1188.32,1168.73 1189.72,1167.73 1192.71,1169.33 1196.71,1171.32 1200.31,1173.72 1201.1,1187.31 1203.7,1185.71 1207.7,1184.11 1211.69,1182.31 1212.69,1189.3 1214.69,1185.71 1217.68,1182.71 1220.68,1175.72 1224.68,1163.73 1228.67,1149.75 1232.67,1135.77 1236.66,1121.78 1241.66,1107.8 1246.65,1096.81 1250.65,1088.82 1254.64,1084.23 1257.64,1083.43 1260.63,1085.83 1263.63,1084.83 1265.63,1083.43 1267.03,1085.83 1269.62,1085.43 1272.62,1088.82 1274.22,1097.81 1275.02,1139.76 1275.6,1139.76 1278,1140.76 1279.99,1141.76 1280.39,1166.73 1281.99,1163.33 1284.99,1163.73 1287.98,1164.73 1289.98,1167.73 1291.98,1167.33 1292.98,1170.73 1294.98,1165.73 1297.97,1159.74 1300.97,1153.75 1304.96,1146.75 1307.96,1143.76 1310.56,1141.76 1311.96,1145.76 1313.95,1141.76 1315.95,1139.76 1316.55,1147.75 1318.95,1144.76 1321.94,1141.76 1324.94,1138.76 1327.94,1138.76 1330.93,1134.77 1332.93,1131.77 1333.93,1133.77 1335.93,1129.77 1337.92,1126.78 1337.92,1141.76 1339.92,1131.77 1343.92,1121.78 1347.91,1111.8 1349.91,1107.8 1350.91,1112.8 1353.91,1100.81 1355.3,1096.81 1355.9,1103.81 1358.9,1091.82 1362.89,1077.84 1366.89,1063.85 1370.88,1050.87 1374.88,1037.88 1378.88,1025.9 1381.87,1016.91 1384.47,1008.92 1385.27,1022.9 1386.87,1007.92 1389.86,994.94 1392.86,981.95 1396.85,965.8 1400.85,951.82 1402.85,944.83 1404.44,940.83 1405.24,942.83 1406.84,935.84 1408.84,929.84 1411.84,921.85 1414.83,914.86 1417.83,910.27 1419.23,912.86 1421.82,908.87 1424.82,904.87 1426.82,902.88 1427.82,904.87 1430.81,902.28 1433.81,900.88 1434.81,906.87 1436.81,903.88 1439.8,901.88 1442.8,901.48 1445.8,902.28 1447.39,903.88 1448.79,911.87 1450.39,923.85 1451.39,935.84 1453.79,931.44 1455.78,934.84 1458.38,937.83 1460.38,943.83 1462.77,949.82 1465.17,954.81 1465.77,999.76 1467.77,991.77 1470.77,980.78 1473.76,970.8 1476.76,963.8 1479.75,956.81 1481.75,950.82 1482.75,958.81 1484.75,949.82 1486.75,939.83 1489.74,925.85 1492.74,915.86 1495.74,908.87 1498.73,904.87 1501.73,902.88 1504.72,902.88 1506.72,905.87 1507.72,925.85 1510.32,924.85 1511.72,929.84 1513.71,933.84 1514.71,941.83 1516.71,950.82 1518.31,957.81 1519.11,971.79 1521.7,972.79 1523.7,971.79 1525.7,972.79 1527.7,971.79 1528.7,976.79 1530.69,980.78 1531.69,984.78 1533.69,986.78 1535.69,989.77 1537.68,987.77 1540.68,985.78 1543.68,991.77 1545.68,986.78 1547.67,980.78 1549.67,977.79 1552.67,976.19 1554.66,976.79 1556.66,979.78 1558.66,977.39 1561.66,978.79 1564.65,975.79 1567.05,972.79 1568.25,986.78 1570.65,983.78 1573.64,982.78 1576.64,983.78 1578.64,978.79 1581.63,980.78 1583.63,978.79 1586.63,981.78 1589.62,978.79 1590.62,999.76 1592.62,998.76 1594.02,999.76"/>
<path class="ax" d="M947 686.8 H1595.5 V1198.2 H947 M957.5 685.85 V1208.7 M947 1134.28H957.5 M947 1070.35H957.5 M947 1006.43H957.5 M947 942.5H957.5 M947 878.58H957.5 M947 814.65H957.5 M947 750.73H957.5 M952.5 1166.24H957.5 M952.5 1102.31H957.5 M952.5 1038.39H957.5 M952.5 974.46H957.5 M952.5 910.54H957.5 M952.5 846.61H957.5 M952.5 782.69H957.5 M952.5 718.76H957.5 M1008.46 1198.2V1203.2 M1059.42 1198.2V1208.7 M1110.38 1198.2V1203.2 M1161.34 1198.2V1208.7 M1212.3 1198.2V1203.2 M1263.26 1198.2V1208.7 M1314.22 1198.2V1203.2 M1365.18 1198.2V1208.7 M1416.14 1198.2V1203.2 M1467.1 1198.2V1208.7 M1518.06 1198.2V1203.2 M1569.02 1198.2V1208.7"/>
<text x="931.8" y="1213.7" text-anchor="end">0</text>
<text x="931.8" y="1149.7" text-anchor="end">5</text>
<text x="931.8" y="1085.7" text-anchor="end">10</text>
<text x="931.8" y="1021.7" text-anchor="end">15</text>
<text x="931.8" y="957.7" text-anchor="end">20</text>
<text x="931.8" y="893.7" text-anchor="end">25</text>
<text x="931.8" y="829.7" text-anchor="end">30</text>
<text x="931.8" y="765.7" text-anchor="end">35</text>
<text x="931.8" y="701.7" text-anchor="end">40</text>
<text x="958.5" y="1244.4" text-anchor="middle">0</text>
<text x="1060.42" y="1244.4" text-anchor="middle">2</text>
<text x="1162.34" y="1244.4" text-anchor="middle">4</text>
<text x="1264.26" y="1244.4" text-anchor="middle">6</text>
<text x="1366.18" y="1244.4" text-anchor="middle">8</text>
<text x="1468.1" y="1244.4" text-anchor="middle">10</text>
<text x="1570.02" y="1244.4" text-anchor="middle">12</text>
<text x="1303.5" y="1284.6" text-anchor="middle" style="font-size:37.3px">Displacement (mm)</text>
<text transform="translate(870.4 960.7) rotate(-90)" text-anchor="middle">Force (kN)</text>
<text x="817" y="691" style="font-size:36px">(d)</text>
<line class="exp" style="stroke-width:1.3" x1="994.5" y1="718.5" x2="1043.75" y2="718.5"/><text x="1053.3" y="730.25">EXP</text>
<line class="fea" style="stroke-width:1.3" x1="994.5" y1="761.75" x2="1038" y2="761.75"/><text x="1053.5" y="773.5">FEA</text>
</g>
</svg>
</body></html>
